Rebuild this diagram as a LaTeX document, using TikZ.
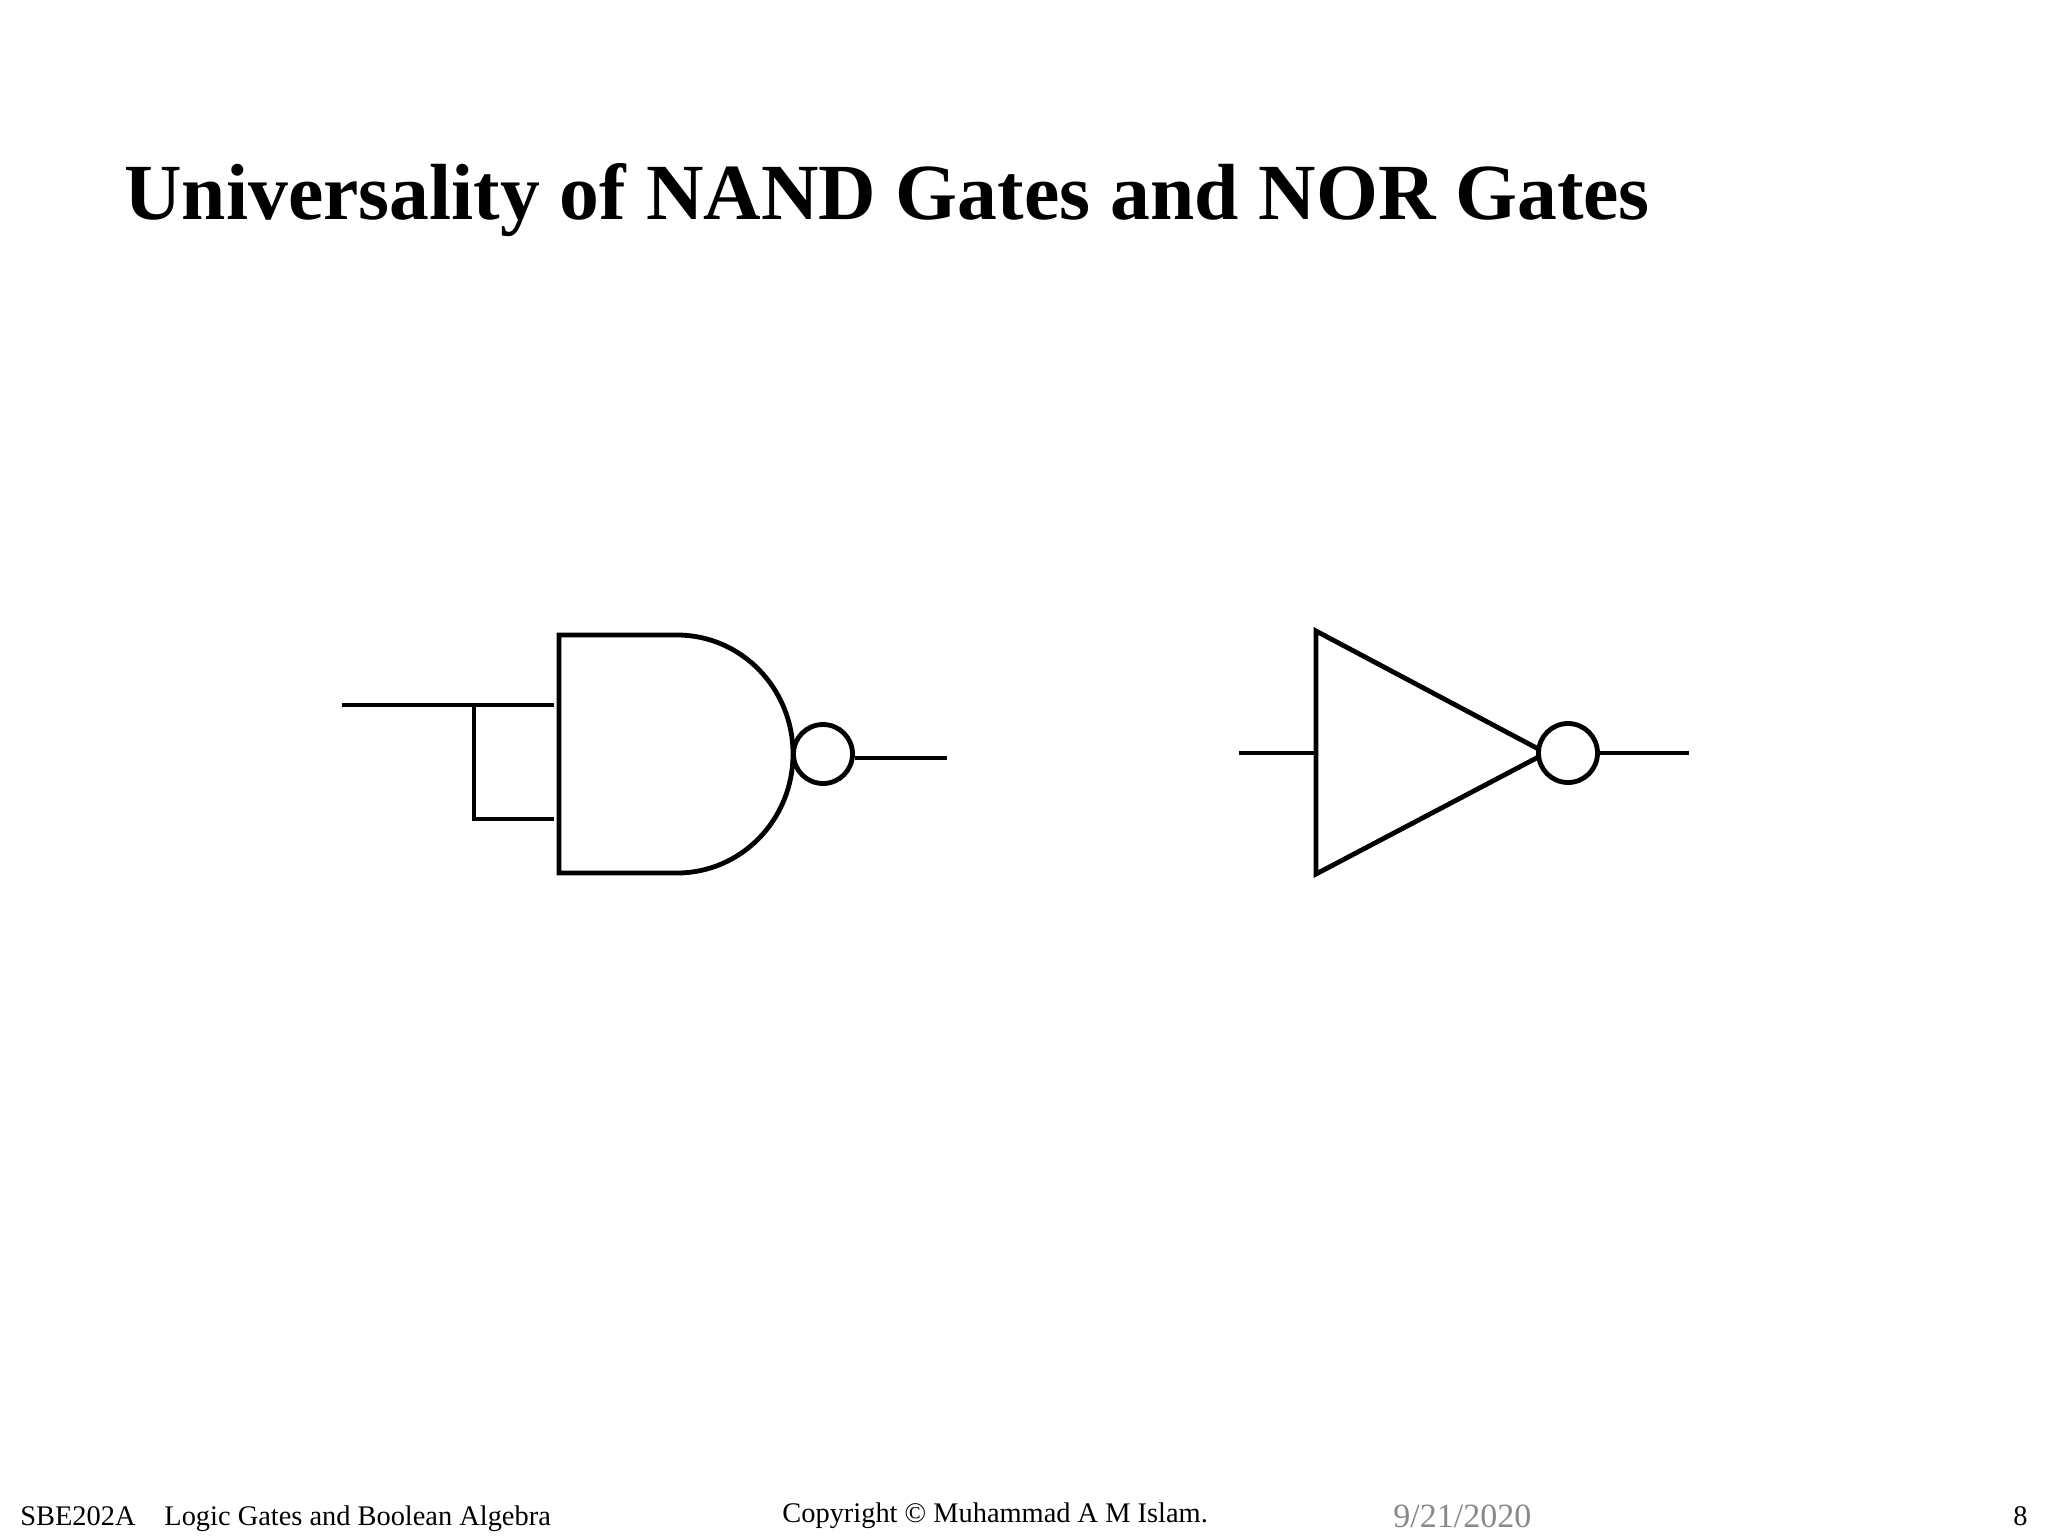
\documentclass[tikz,border=0pt]{standalone}
\usepackage{fontspec}
\setmainfont{Liberation Serif}
\definecolor{dategray}{RGB}{137,137,137}

\begin{document}
\begin{tikzpicture}[x=0.5pt, y=-0.5pt, line width=2.4pt,
  bubble/.style={shape=circle, draw, minimum size=29.5pt, inner sep=0pt},
  wire/.style={line cap=butt},
  foot/.style={inner sep=0pt, anchor=base west, font=\fontsize{14.2}{16}\selectfont}]

\useasboundingbox (0,0) rectangle (2048,1536);

\node[inner sep=0pt, anchor=base west, font=\fontsize{39.8}{44}\selectfont\bfseries] (title) at (122,219)
	{Universality of NAND Gates and NOR Gates};

% nand gate wired as inverter
\draw (559,635) -- (677,635)
	.. controls (741,635) and (793,688) .. (793,754)
	.. controls (793,820) and (741,873) .. (677,873)
	-- (559,873) -- cycle;
\node[bubble] (nandout) at (823,754) {};
\coordinate (nandin) at (342,705);
\coordinate (nandtop) at (554,705);
\coordinate (nandjoin) at (474,705);
\coordinate (nandknee) at (474,819);
\coordinate (nandlow) at (554,819);
\coordinate (nandend) at (947,758);
\draw[wire] (nandin) -- (nandtop);
\draw[wire] (nandjoin) -- (nandknee) -- (nandlow);
\draw[wire] (nandout.east |- nandend) -- (nandend);

% inverter
\coordinate (invtop) at (1316,631);
\coordinate (invlow) at (1316,874);
\coordinate (invleft) at (1316,753);
\coordinate (invtip) at (1546,753);
\coordinate (invin) at (1239,753);
\coordinate (invend) at (1689,753);
\draw[line join=miter] (invtip) -- (invtop) -- (invlow) -- cycle;
\draw[wire] (invin) -- (invleft);
\node[bubble, fill=white] (invout) at (1568,753) {};
\draw[wire] (invout) -- (invend);

% footer
\node[foot] (course) at (18,1525) {SBE202A};
\node[foot] (topic) at (162,1525) {Logic Gates and Boolean Algebra};
\node[foot] (copy) at (780,1522) {Copyright © Muhammad A M Islam.};
\node[foot, text=dategray, font=\fontsize{17}{20}\selectfont] (date) at (1391,1527) {9/21/2020};
\node[foot] (page) at (2011,1525) {8};
\end{tikzpicture}
\end{document}
